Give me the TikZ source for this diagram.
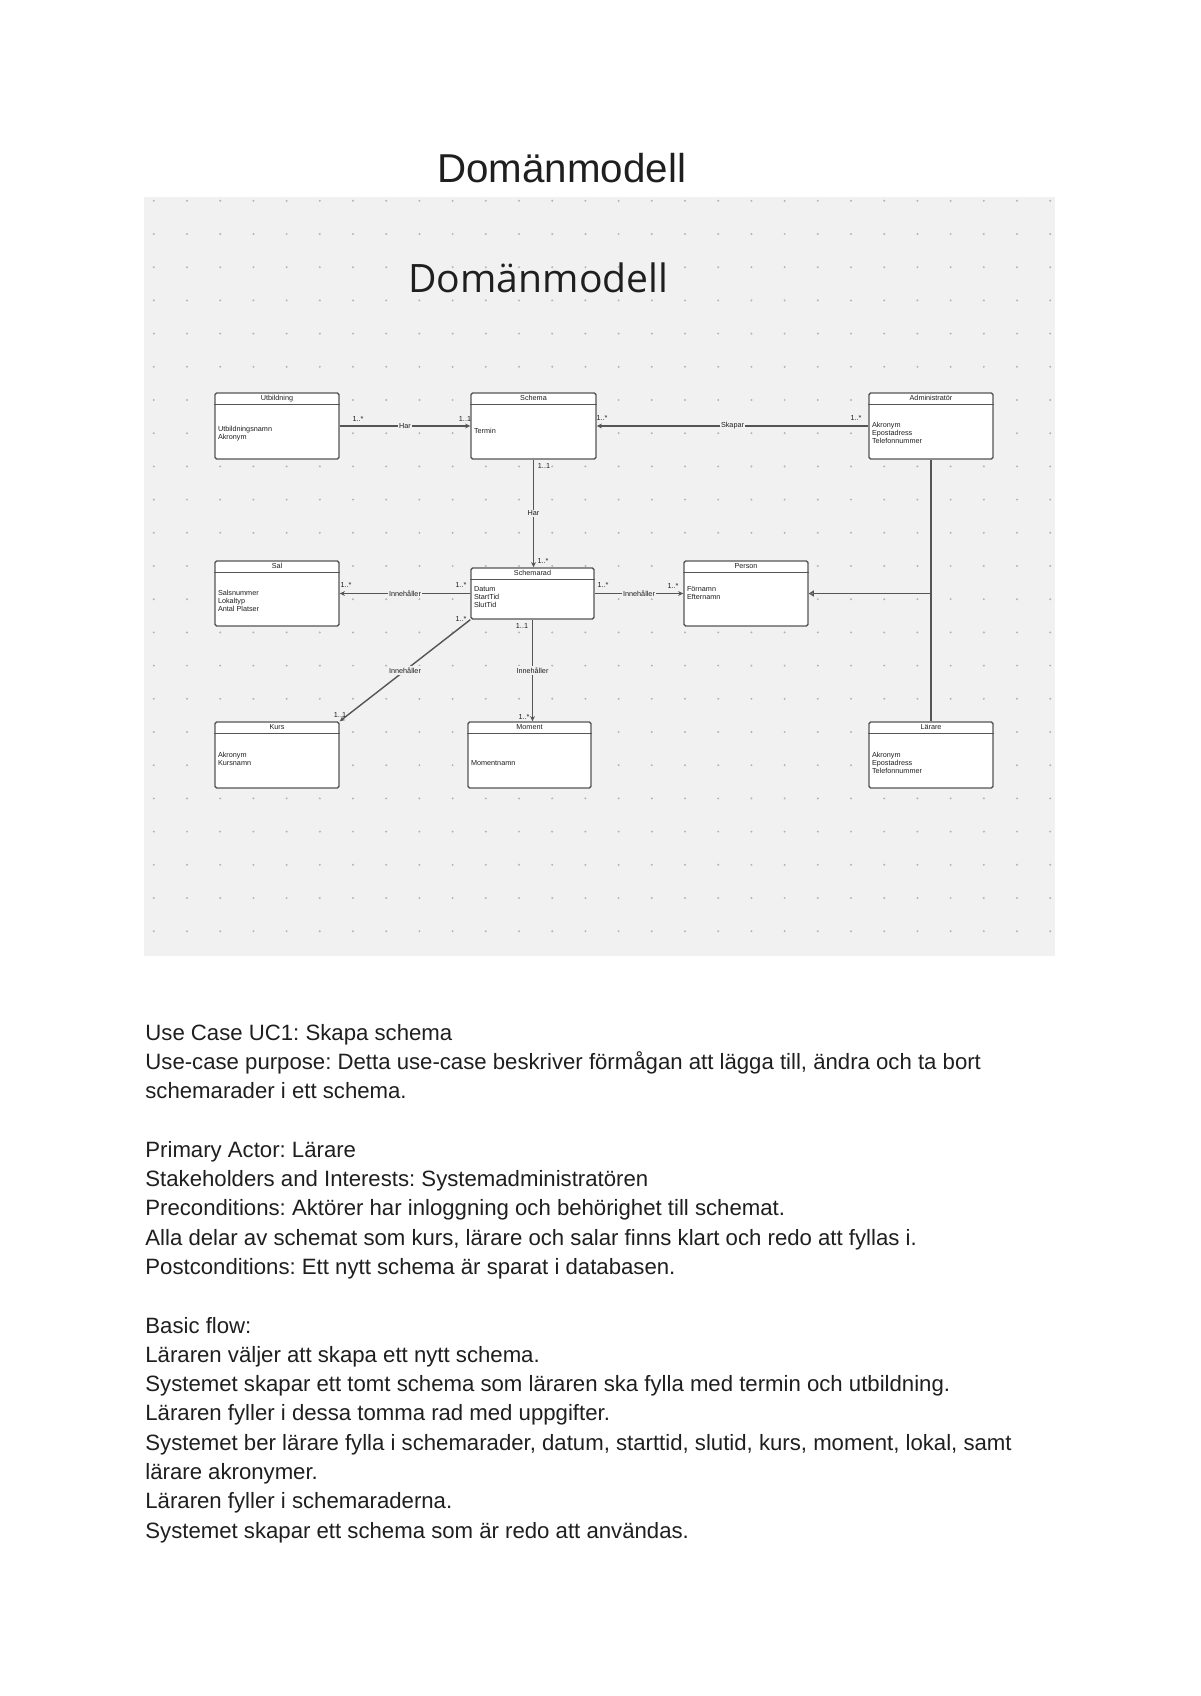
\documentclass[tikz,border=0pt]{standalone}
\usepackage{fontspec}
\setmainfont{Liberation Sans}
\newfontfamily\osfont{Open Sans}
\usetikzlibrary{arrows.meta,calc}
\frenchspacing
\definecolor{bgc}{HTML}{F1F1F1}
\definecolor{dotc}{HTML}{B4B4B4}
\definecolor{linec}{HTML}{555555}
\definecolor{txtc}{HTML}{1F1F1F}
\def\pxu{0.4961pt}
\tikzset{
 clsbox/.style={draw=linec, line width=0.7pt, fill=white, rounded corners=0.8pt, inner sep=0pt},
 clsline/.style={draw=linec, line width=0.6pt},
 tinyf/.style={font=\fontsize{3.6}{3.85}\selectfont, text=txtc, inner sep=0.3pt},
 attr/.style={tinyf, align=left, anchor=west},
 assoc/.style={draw=linec, line width=0.7pt, -{Stealth[length=2.6pt,width=2.4pt]}},
 plainline/.style={draw=linec, line width=0.7pt},
 genline/.style={draw=linec, line width=0.7pt, -{Triangle[open,length=2.6pt,width=3pt]}},
 rel/.style={tinyf, fill=bgc, inner sep=0.6pt},
 mult/.style={tinyf},
 body/.style={anchor=base west, font=\fontsize{11}{13}\selectfont, text=txtc, inner sep=0pt},
}
\newcommand{\umlcls}[6]{%
  \node[clsbox, minimum width=#4*\pxu, minimum height=#5*\pxu] (#1) at (#2,#3) {};
  \draw[clsline] ($(#1.north west)+(0,12)$) -- ($(#1.north east)+(0,12)$);
  \node[tinyf] (#1-t) at ($(#1.north)+(0,6)$) {#6};
}
\begin{document}
\begin{tikzpicture}[x=\pxu,y=-\pxu]
\useasboundingbox (0,0) rectangle (1200,1696);
\fill[white] (0,0) rectangle (1200,1696);
\node[anchor=base west, font=\fontsize{20}{24}\selectfont, inner sep=0pt, text=txtc] (title) at (437,183) {Domänmodell};
% diagram background
\fill[bgc] (144,197) rectangle (1055,956);
\foreach \i in {0,...,27}{\foreach \j in {0,...,22}{\fill[dotc] ({153.8+33.2*\i},{200.8+33.2*\j}) circle (1.1);}}
\node[anchor=base west, font=\osfont\fontsize{19.4}{23}\selectfont, inner sep=0pt, text=txtc] (dtitle) at (408,292) {Domänmodell};
% classes
\umlcls{utb}{277}{426}{124}{66}{Utbildning}
\umlcls{sch}{533.5}{426}{125}{66}{Schema}
\umlcls{adm}{931}{426}{124}{66}{Administratör}
\umlcls{sal}{277}{593.5}{124}{65}{Sal}
\umlcls{srad}{532.5}{593.5}{123}{51}{Schemarad}
\umlcls{per}{746}{593.5}{124}{65}{Person}
\umlcls{kurs}{277}{755}{124}{66}{Kurs}
\umlcls{mom}{529.5}{755}{123}{66}{Moment}
\umlcls{lar}{931}{755}{124}{66}{Lärare}
% attributes
\node[attr] (utb-a) at (217,433.5) {Utbildningsnamn\\Akronym};
\node[attr] (sch-a) at (473,431) {Termin};
\node[attr] (adm-a) at (871,433) {Akronym\\Epostadress\\Telefonnummer};
\node[attr] (sal-a) at (217,601) {Salsnummer\\Lokaltyp\\Antal Platser};
\node[attr] (srad-a) at (473,597) {Datum\\StartTid\\SlutTid};
\node[attr] (per-a) at (686,593) {Förnamn\\Efternamn};
\node[attr] (kurs-a) at (217,759) {Akronym\\Kursnamn};
\node[attr] (mom-a) at (470,763) {Momentnamn};
\node[attr] (lar-a) at (871,763) {Akronym\\Epostadress\\Telefonnummer};
% connectors
\draw[assoc] (utb.east) -- node[rel] (l1) {Har} (sch.west);
\draw[assoc] (adm.west) -- node[rel] (l2) {Skapar} (sch.east);
\draw[assoc] (sch.south) -- node[rel] (l3) {Har} (sch.south |- srad.north);
\draw[assoc] (srad.west) -- node[rel] (l4) {Innehåller} (sal.east);
\draw[assoc] (srad.east) -- node[rel] (l5) {Innehåller} (per.west);
\draw[assoc] (srad.south west) -- node[rel] (l6) {Innehåller} (kurs.north east);
\draw[assoc] (srad.south) -- node[rel] (l7) {Innehåller} (srad.south |- mom.north);
\coordinate (jn) at (adm.south |- per.east);
\draw[plainline] (adm.south) -- (lar.north);
\draw[genline] (jn) -- (per.east);
% multiplicities
\node[mult] (m1) at (358,419) {1..*};
\node[mult] (m2) at (465,419) {1..1};
\node[mult] (m3) at (602,418) {1..*};
\node[mult] (m4) at (856,418) {1..*};
\node[mult] (m5) at (544,466) {1..1};
\node[mult] (m6) at (543,561) {1..*};
\node[mult] (m7) at (346,585) {1..*};
\node[mult] (m8) at (461,585) {1..*};
\node[mult] (m9) at (603,585) {1..*};
\node[mult] (m10) at (673,586) {1..*};
\node[mult] (m11) at (461,619) {1..*};
\node[mult] (m12) at (522,626) {1..1};
\node[mult] (m13) at (340,715) {1..1};
\node[mult] (m14) at (524,717) {1..*};
% body text
\node[body] (t1) at (145,1040) {Use Case UC1: Skapa schema};
\node[body] (t2) at (145,1069.3) {Use-case purpose: Detta use-case beskriver förmågan att lägga till, ändra och ta bort};
\node[body] (t3) at (145,1098.6) {schemarader i ett schema.};
\node[body] (t4) at (145,1157.2) {Primary Actor: Lärare};
\node[body] (t5) at (145,1186.5) {Stakeholders and Interests: Systemadministratören};
\node[body] (t6) at (145,1215.8) {Preconditions: Aktörer har inloggning och behörighet till schemat.};
\node[body] (t7) at (145,1245.1) {Alla delar av schemat som kurs, lärare och salar finns klart och redo att fyllas i.};
\node[body] (t8) at (145,1274.4) {Postconditions: Ett nytt schema är sparat i databasen.};
\node[body] (t9) at (145,1333) {Basic flow:};
\node[body] (t10) at (145,1362.3) {Läraren väljer att skapa ett nytt schema.};
\node[body] (t11) at (145,1391.6) {Systemet skapar ett tomt schema som läraren ska fylla med termin och utbildning.};
\node[body] (t12) at (145,1420.9) {Läraren fyller i dessa tomma rad med uppgifter.};
\node[body] (t13) at (145,1450.2) {Systemet ber lärare fylla i schemarader, datum, starttid, slutid, kurs, moment, lokal, samt};
\node[body] (t14) at (145,1479.5) {lärare akronymer.};
\node[body] (t15) at (145,1508.8) {Läraren fyller i schemaraderna.};
\node[body] (t16) at (145,1538.1) {Systemet skapar ett schema som är redo att användas.};
\end{tikzpicture}
\end{document}
